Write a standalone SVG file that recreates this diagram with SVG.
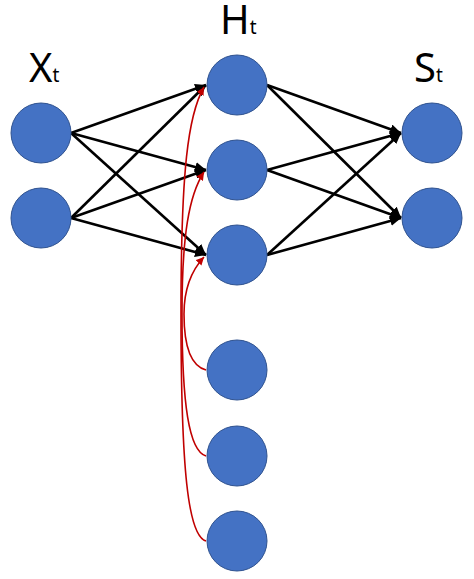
<svg xmlns="http://www.w3.org/2000/svg" width="474" height="579" viewBox="0 0 474 579">
<style>
.n{fill:#4472C4;stroke:#2F528F;stroke-width:1}
.b{fill:none;stroke:#000;stroke-width:2.6;marker-end:url(#ab)}
.r{fill:none;stroke:#C00000;stroke-width:1.6;marker-end:url(#ar)}
.lbl{font-family:"Noto Sans","Open Sans",sans-serif;font-size:40px;fill:#000}
.sub{font-size:19px}
</style>
<defs>
<marker id="ab" markerUnits="userSpaceOnUse" markerWidth="12" markerHeight="10" refX="11" refY="5" orient="auto"><path d="M0,0 L11,5 L0,10 z" fill="#000"/></marker>
<marker id="ar" markerUnits="userSpaceOnUse" markerWidth="9" markerHeight="8" refX="8" refY="4" orient="auto"><path d="M0,0 L8,4 L0,8 z" fill="#C00000"/></marker>
</defs>
<g id="labels">
<text class="lbl" x="29" y="82">X<tspan class="sub">t</tspan></text>
<text class="lbl" x="220" y="34">H<tspan class="sub">t</tspan></text>
<text class="lbl" x="414" y="82">S<tspan class="sub">t</tspan></text>
</g>
<g id="connectors">
<path class="b" d="M71,133 L206,85"/>
<path class="b" d="M71,133 L206,170"/>
<path class="b" d="M71,133 L206,255"/>
<path class="b" d="M71,218 L206,85"/>
<path class="b" d="M71,218 L206,170"/>
<path class="b" d="M71,218 L206,255"/>
<path class="b" d="M267,85 L401,133"/>
<path class="b" d="M267,85 L401,218"/>
<path class="b" d="M267,170 L401,133"/>
<path class="b" d="M267,170 L401,218"/>
<path class="b" d="M267,255 L401,133"/>
<path class="b" d="M267,255 L401,218"/>
<path class="r" d="M206,370 C191,366 184,345 184,314 C184,292 190,272 204,257"/>
<path class="r" d="M206,456 C189,451 182,405 182,313 C182,235 189,195 204,172"/>
<path class="r" d="M206,541 C188,536 181,470 181,313 C181,170 188,115 204,87"/>
</g>
<g id="x1"><circle class="n" cx="41" cy="133" r="30"/></g>
<g id="x2"><circle class="n" cx="41" cy="218" r="30"/></g>
<g id="h1"><circle class="n" cx="237" cy="85" r="30"/></g>
<g id="h2"><circle class="n" cx="237" cy="170" r="30"/></g>
<g id="h3"><circle class="n" cx="237" cy="255" r="30"/></g>
<g id="c1"><circle class="n" cx="237" cy="370" r="30"/></g>
<g id="c2"><circle class="n" cx="237" cy="456" r="30"/></g>
<g id="c3"><circle class="n" cx="237" cy="541" r="30"/></g>
<g id="s1"><circle class="n" cx="432" cy="133" r="30"/></g>
<g id="s2"><circle class="n" cx="432" cy="218" r="30"/></g>
</svg>
